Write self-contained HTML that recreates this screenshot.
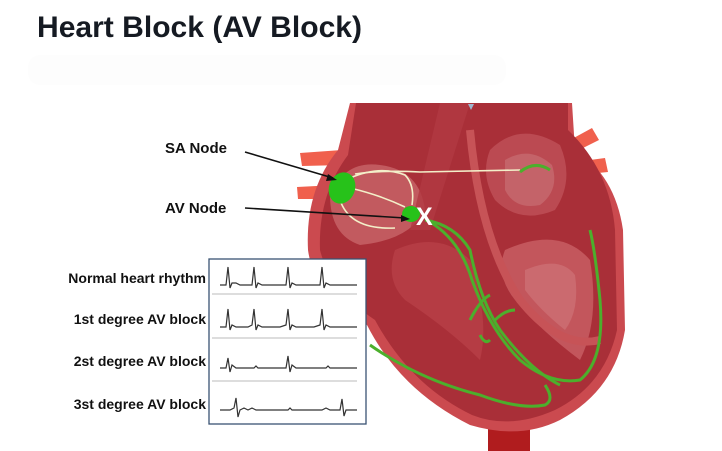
<!DOCTYPE html>
<html><head><meta charset="utf-8"><style>
html,body{margin:0;padding:0;background:#fff;width:722px;height:451px;overflow:hidden}
svg{display:block}
</style></head><body>
<svg width="722" height="451" viewBox="0 0 722 451" xmlns="http://www.w3.org/2000/svg" font-family="Liberation Sans, sans-serif">
<rect width="722" height="451" fill="#fff"/>
<text x="37" y="37" font-size="30" font-weight="bold" fill="#151a22" textLength="325" lengthAdjust="spacingAndGlyphs">Heart Block (AV Block)</text>
<rect x="28" y="55" width="478" height="30" rx="12" fill="#fdfdfd"/>
<!-- vessels -->
<g fill="#f0604d">
<path d="M300 153 L342 150 L344 165 L302 166 Z"/>
<path d="M297 187 L336 185 L336 199 L298 199 Z"/>
<path d="M570 140 L592 128 L599 140 L575 152 Z"/>
<path d="M575 162 L605 158 L608 172 L578 175 Z"/>
</g>
<rect x="488" y="418" width="42" height="33" fill="#b01c1e"/>
<!-- heart body -->
<path d="M350 103 L572 103 L575 150 Q615 175 623 230 L625 330 Q615 390 560 420 Q520 440 470 425 Q400 390 367 325 Q315 300 308 250 Q305 190 338 150 Z" fill="#cb4a4f"/>
<path d="M356 103 L568 103 L568 130 Q610 170 615 230 L617 330 Q605 385 555 410 Q510 430 472 415 Q410 385 375 320 Q330 290 320 250 Q318 195 348 155 Z" fill="#a92f38"/>
<!-- inner chambers -->
<path d="M330 195 Q345 160 380 165 Q420 170 425 210 Q410 240 360 245 Q330 235 330 195Z" fill="#c25a5f"/>
<path d="M490 150 Q520 120 560 145 Q575 180 555 210 Q520 225 495 200 Q480 175 490 150Z" fill="#bb4a52"/>
<path d="M505 160 Q530 145 552 165 Q560 190 540 205 Q515 210 505 190Z" fill="#c46369"/>
<path d="M395 250 Q440 230 470 260 Q490 320 480 360 Q450 330 405 300 Q385 280 395 250Z" fill="#b53c44"/>
<path d="M505 250 Q560 225 590 260 Q600 320 580 360 Q540 330 515 300 Q495 275 505 250Z" fill="#c3565c"/>
<path d="M525 270 Q560 255 575 275 Q580 310 565 330 Q540 310 525 290Z" fill="#cb6a6f"/>
<path d="M440 103 L470 103 L430 230 L410 230 Z" fill="#b23a42" opacity=".8"/>
<path d="M470 130 Q480 240 520 300 Q560 350 600 340" fill="none" stroke="#c75357" stroke-width="8"/>
<path d="M468 104 l6 0 l-3 6z" fill="#9fb7cf"/>
<!-- conduction -->
<g fill="none" stroke="#f3efc9" stroke-width="1.6">
<path d="M350 178 Q380 165 405 175 Q415 185 412 205"/>
<path d="M350 188 Q380 195 405 207"/>
<path d="M340 200 Q350 230 395 228"/>
<path d="M355 174 Q380 170 420 172 L520 170"/>
</g>
<g fill="none" stroke="#4caf2c" stroke-width="3">
<path d="M425 220 Q455 225 470 250 Q480 300 500 330 Q530 370 560 385"/>
<path d="M430 222 Q460 240 472 280 Q490 330 520 360 Q550 385 580 380 Q605 360 600 300 Q595 250 590 230"/>
<path d="M370 345 Q420 380 480 395 Q520 410 545 405 Q555 400 545 385"/>
<path d="M520 172 Q535 160 550 170"/>
<path d="M470 320 Q480 300 490 295 M495 320 Q505 310 515 310 M480 335 Q485 345 490 340"/>
</g>
<ellipse cx="342" cy="188" rx="13" ry="16" fill="#27c21a" transform="rotate(20 342 188)"/>
<ellipse cx="411" cy="214" rx="9" ry="8" fill="#27c21a"/>
<text x="416" y="225" font-size="25" font-weight="bold" fill="#fff">X</text>
<!-- labels -->
<text x="165" y="153" font-size="15" font-weight="bold" fill="#111">SA Node</text>
<text x="165" y="213" font-size="15" font-weight="bold" fill="#111">AV Node</text>
<g stroke="#111" stroke-width="1.6">
<line x1="245" y1="152" x2="333" y2="178"/>
<line x1="245" y1="208" x2="405" y2="218"/>
</g>
<path d="M337 180 l-9 -6 l-2 7z" fill="#111"/>
<path d="M410 219 l-9 -4 l0 7z" fill="#111"/>
<!-- ECG box -->
<rect x="209" y="259" width="157" height="165" fill="#fff" stroke="#3a5373" stroke-width="1.3"/>
<g stroke="#bbb" stroke-width="1"><line x1="212" y1="294" x2="357" y2="294"/><line x1="212" y1="338" x2="357" y2="338"/><line x1="212" y1="381" x2="357" y2="381"/></g>
<g fill="none" stroke="#333" stroke-width="1.2">
<path d="M220 285 L226 285 L228 267 L230 288 L232 283 L236 283 L240 285 L252 285 L254 267 L256 288 L258 283 L262 285 L286 285 L288 267 L290 288 L292 283 L296 285 L320 285 L322 267 L324 288 L326 283 L330 285 L357 285"/>
<path d="M220 327 L226 327 L228 309 L230 330 L232 325 L236 327 L248 327 L252 325 L254 309 L256 330 L258 325 L262 327 L280 327 L286 325 L288 309 L290 330 L292 325 L296 327 L314 327 L320 325 L322 309 L324 330 L326 325 L330 327 L357 327"/>
<path d="M220 368 L226 368 L228 358 L230 372 L232 365 L236 368 L254 368 L256 366 L258 368 L286 368 L288 356 L290 372 L292 365 L296 368 L326 368 L328 366 L330 368 L357 368"/>
<path d="M220 410 L230 410 L234 408 L236 398 L238 417 L240 410 L244 408 L248 410 L252 408 L256 410 L288 410 L290 408 L292 410 L322 410 L326 408 L330 410 L340 410 L342 399 L344 416 L346 410 L357 410"/>
</g>
<g font-size="14" font-weight="bold" fill="#111" text-anchor="end">
<text x="206" y="283">Normal heart rhythm</text>
<text x="206" y="324">1st degree AV block</text>
<text x="206" y="366">2st degree AV block</text>
<text x="206" y="409">3st degree AV block</text>
</g>
</svg>
</body></html>
